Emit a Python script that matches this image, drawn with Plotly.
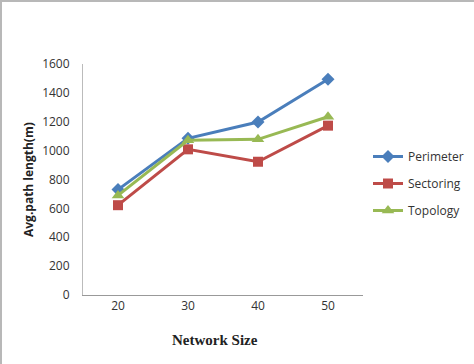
import plotly.graph_objects as go

network_size = ["20", "30", "40", "50"]
perimeter = [730, 1085, 1198, 1494]
sectoring = [622, 1009, 923, 1173]
topology = [690, 1072, 1078, 1235]
y_ticks = [0, 200, 400, 600, 800, 1000, 1200, 1400, 1600]

W, H = 474, 364
L, R, T, B = 83, 111, 64, 69
pw, ph = W - L - R, H - T - B

fig = go.Figure()
series = [
    ("Perimeter", perimeter, "#4a7ebb", "diamond", 10),
    ("Sectoring", sectoring, "#be4b48", "square", 10),
    ("Topology", topology, "#98b954", "triangle-up", 11),
]
for name, vals, col, sym, sz in series:
    fig.add_trace(go.Scatter(
        x=network_size, y=vals, name=name, mode="lines+markers",
        line=dict(color=col, width=3),
        marker=dict(symbol=sym, size=sz, color=col),
        legendgroup=name,
    ))

fig.update_layout(
    width=W, height=H,
    margin=dict(l=L, r=R, t=T, b=B, pad=0, autoexpand=False),
    paper_bgcolor="white", plot_bgcolor="white",
    font=dict(family="Open Sans, Liberation Sans, sans-serif", size=12, color="#333333"),
    showlegend=True,
    legend=dict(x=(368 - L) / pw, y=(H - B - 142) / ph, xanchor="left", yanchor="top",
                font=dict(size=12, color="#333333"), tracegroupgap=8,
                bgcolor="rgba(0,0,0,0)"),
    xaxis=dict(type="category", showgrid=False, showline=True, linecolor="#999999",
               linewidth=1, ticks="", tickfont=dict(size=12, color="#333333"),
               range=[-0.5, 3.5], zeroline=False),
    yaxis=dict(range=[0, 1600], tickvals=y_ticks, showgrid=False, showline=True,
               linecolor="#bbbbbb", linewidth=1, ticks="", zeroline=False,
               tickfont=dict(size=12, color="#333333"), ticklabelstandoff=10),
)

fig.add_annotation(text="<b>Avg.path length(m)</b>", xref="paper", yref="paper",
                   x=(28 - L) / pw, y=(H - 180 - B) / ph,
                   textangle=-90, showarrow=False, xanchor="center", yanchor="middle",
                   font=dict(family="Open Sans, sans-serif", size=12, color="#222222"))
fig.add_annotation(text="<b>Network Size</b>", xref="paper", yref="paper",
                   x=(215 - L) / pw, y=-(340 - (T + ph)) / ph,
                   showarrow=False, xanchor="center", yanchor="middle",
                   font=dict(family="Liberation Serif, serif", size=15, color="#222222"))

# thin gray border on top and left of the image
fig.add_shape(type="rect", xref="paper", yref="paper",
              x0=-L / pw, x1=(W - L) / pw, y0=(ph + T - 2) / ph, y1=(ph + T) / ph,
              fillcolor="#b8b8b8", line=dict(width=0), layer="above")
fig.add_shape(type="rect", xref="paper", yref="paper",
              x0=-L / pw, x1=(-L + 2) / pw, y0=-B / ph, y1=(ph + T) / ph,
              fillcolor="#b8b8b8", line=dict(width=0), layer="above")

fig.write_html("out.html", config={"displayModeBar": False},
               post_script="document.body.style.margin='0';document.body.style.overflow='hidden';")
